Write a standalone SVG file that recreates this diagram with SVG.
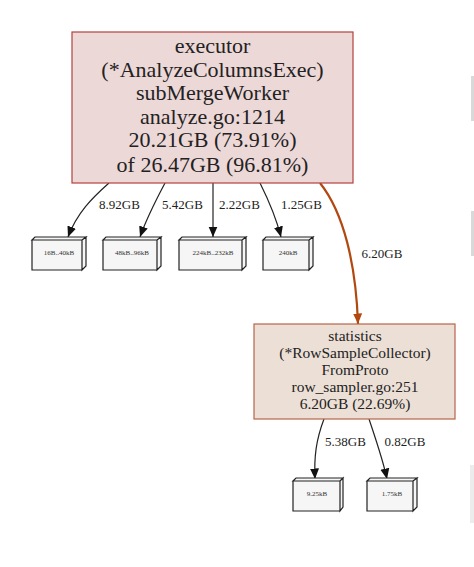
<svg xmlns="http://www.w3.org/2000/svg" width="474" height="567" viewBox="0 0 474 567">
<style>
text{font-family:"Liberation Serif","Times New Roman",serif;fill:#222;text-anchor:middle}
.big{font-size:22px}
.mid{font-size:15.500px}
.lab{font-size:13px;text-anchor:start}
.tiny{font-size:7px;fill:#333}
.box{fill:#f6f6f6;stroke:#222;stroke-width:1.200}
.edge{fill:none;stroke:#222;stroke-width:1.200}
.strip{stroke:none}
</style>
<defs>
<marker id="ah" markerUnits="userSpaceOnUse" markerWidth="11" markerHeight="10" refX="10.500" refY="5" orient="auto" viewBox="0 0 11 10"><path d="M0 0.500L0 9.500L10.500 5Z" fill="#111"/></marker>
<marker id="ahb" markerUnits="userSpaceOnUse" markerWidth="11" markerHeight="10" refX="10.500" refY="5" orient="auto" viewBox="0 0 11 10"><path d="M0 0.500L0 9.500L10.500 5Z" fill="#b2480f"/></marker>
</defs>
<rect width="474" height="567" fill="#fff"/>
<g id="connectors">
<path class="edge" marker-end="url(#ah)" d="M109 183C92 198 77 213 68 237"/>
<path class="edge" marker-end="url(#ah)" d="M165 183C156 200 147 217 140 237"/>
<path class="edge" marker-end="url(#ah)" d="M213 183L213 237"/>
<path class="edge" marker-end="url(#ah)" d="M260 183C268 199 276 217 281 237"/>
<path fill="none" stroke="#b2480f" stroke-width="2.200" marker-end="url(#ahb)" d="M320 183C344 213 356 265 358 324"/>
<path class="edge" marker-end="url(#ah)" d="M324 419C316 440 314 457 315 479"/>
<path class="edge" marker-end="url(#ah)" d="M369 419C376 440 383 460 387 479"/>
<text class="lab" x="99" y="209">8.92GB</text>
<text class="lab" x="162" y="209">5.42GB</text>
<text class="lab" x="219" y="209">2.22GB</text>
<text class="lab" x="281" y="209">1.25GB</text>
<text class="lab" x="361.500" y="258">6.20GB</text>
<text class="lab" x="325" y="446">5.38GB</text>
<text class="lab" x="384.500" y="446">0.82GB</text>
</g>
<g id="node-executor">
<rect x="72" y="32" width="281" height="151" fill="#edd8d8" stroke="#b2413f" stroke-width="1.200"/>
<text class="big" x="212.500" y="53">executor</text>
<text class="big" x="212.500" y="76.600">(*AnalyzeColumnsExec)</text>
<text class="big" x="212.500" y="100.200">subMergeWorker</text>
<text class="big" x="212.500" y="123.800">analyze.go:1214</text>
<text class="big" x="212.500" y="147.400">20.21GB (73.91%)</text>
<text class="big" x="212.500" y="172">of 26.47GB (96.81%)</text>
</g>
<g id="node-statistics">
<rect x="254" y="324" width="201" height="95" fill="#ecdfd6" stroke="#b8654a" stroke-width="1.200"/>
<text class="mid" x="355" y="341">statistics</text>
<text class="mid" x="355" y="358">(*RowSampleCollector)</text>
<text class="mid" x="355" y="375">FromProto</text>
<text class="mid" x="355" y="392">row_sampler.go:251</text>
<text class="mid" x="355" y="409">6.20GB (22.69%)</text>
</g>
<g id="node-16B-40kB">
<path class="box" d="M32 240H82V270H32ZM32 240L35 237H86L82 240ZM82 240L86 237V266L82 270Z"/>
<text class="tiny" x="59" y="255">16B..40kB</text>
</g>
<g id="node-48kB-96kB">
<path class="box" d="M103 240H157V270H103ZM103 240L106 237H161L157 240ZM157 240L161 237V266L157 270Z"/>
<text class="tiny" x="132" y="255">48kB..96kB</text>
</g>
<g id="node-224kB-232kB">
<path class="box" d="M179 240H242V270H179ZM179 240L182 237H246L242 240ZM242 240L246 237V266L242 270Z"/>
<text class="tiny" x="213" y="255">224kB..232kB</text>
</g>
<g id="node-240kB">
<path class="box" d="M263 240H309V270H263ZM263 240L266 237H313L309 240ZM309 240L313 237V266L309 270Z"/>
<text class="tiny" x="288" y="255">240kB</text>
</g>
<g id="node-9-25kB">
<path class="box" d="M293 481H340V511H293ZM293 481L296 478H343L340 481ZM340 481L343 478V507L340 511Z"/>
<text class="tiny" x="317" y="496">9.25kB</text>
</g>
<g id="node-1-75kB">
<path class="box" d="M367 481H413V511H367ZM367 481L370 478H417L413 481ZM413 481L417 478V507L413 511Z"/>
<text class="tiny" x="392" y="496">1.75kB</text>
</g>
<rect class="strip" x="471" y="76" width="3" height="45" fill="#d9d9d9"/>
<rect class="strip" x="471" y="211" width="3" height="45" fill="#d9d9d9"/>
<rect class="strip" x="470" y="465" width="4" height="58" fill="#ececec"/>
</svg>
